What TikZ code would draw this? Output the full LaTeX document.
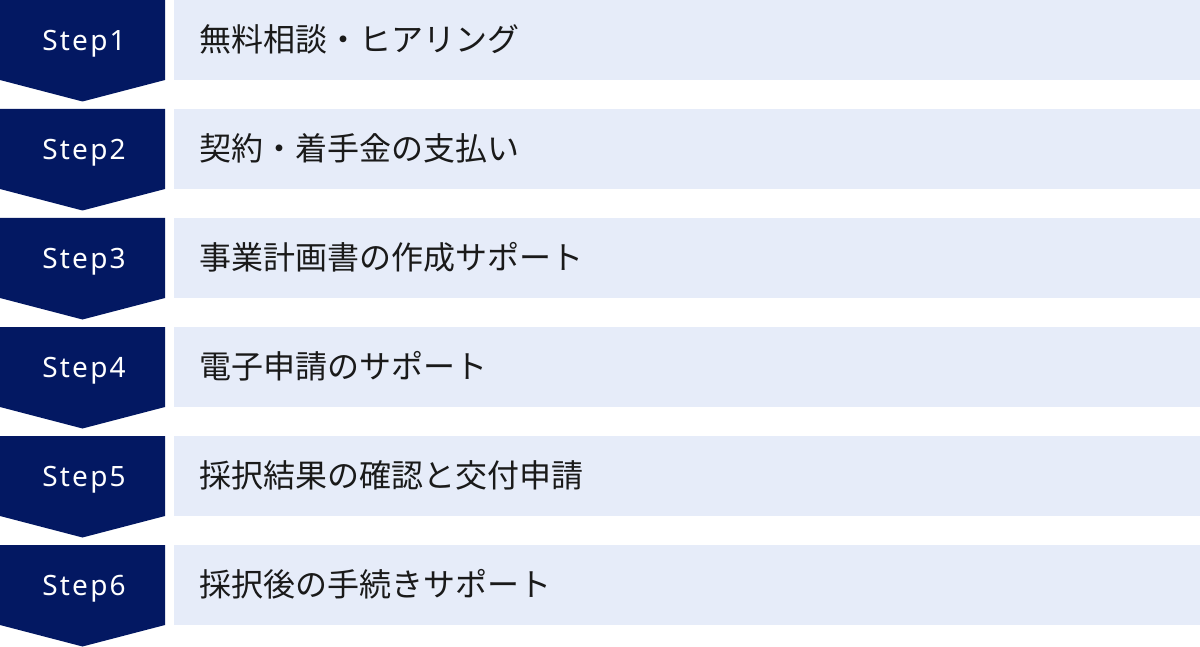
\documentclass[tikz,border=0pt]{standalone}
\usepackage{fontspec}
\setmainfont{Noto Sans CJK JP}
\newfontfamily\stepfont[LetterSpace=8]{Noto Sans}
\definecolor{navy}{HTML}{031862}
\definecolor{barblue}{HTML}{E6ECF9}
\definecolor{txt}{HTML}{1A1A1A}
\tikzset{
  steplabel/.style={text=white, font=\stepfont\fontsize{28}{28}\selectfont, inner sep=0pt, anchor=base},
  itemlabel/.style={text=txt, font=\fontsize{32}{32}\selectfont, inner sep=0pt, anchor=base west},
  chevron/.style={fill=navy},
  bar/.style={fill=barblue}
}
\begin{document}
\begin{tikzpicture}[x=1pt,y=-1pt]
\useasboundingbox (0,0) rectangle (1200,647);
\foreach \i/\txt in {0/無料相談・ヒアリング,1/契約・着手金の支払い,2/事業計画書の作成サポート,3/電子申請のサポート,4/採択結果の確認と交付申請,5/採択後の手続きサポート}{
  \pgfmathsetmacro{\t}{109*\i}
  \pgfmathtruncatemacro{\n}{\i+1}
  \fill[chevron] (0,\t) -- (165,\t) -- (165,\t+80) -- (82.5,\t+101.5) -- (0,\t+80) -- cycle;
  \fill[bar] (174,\t) rectangle (1200,\t+80);
  \node[steplabel] (step\n) at (84,\t+50.5) {Step\n};
  \node[itemlabel] (item\n) at (199,\t+51.5) {\txt};
}
\end{tikzpicture}
\end{document}
